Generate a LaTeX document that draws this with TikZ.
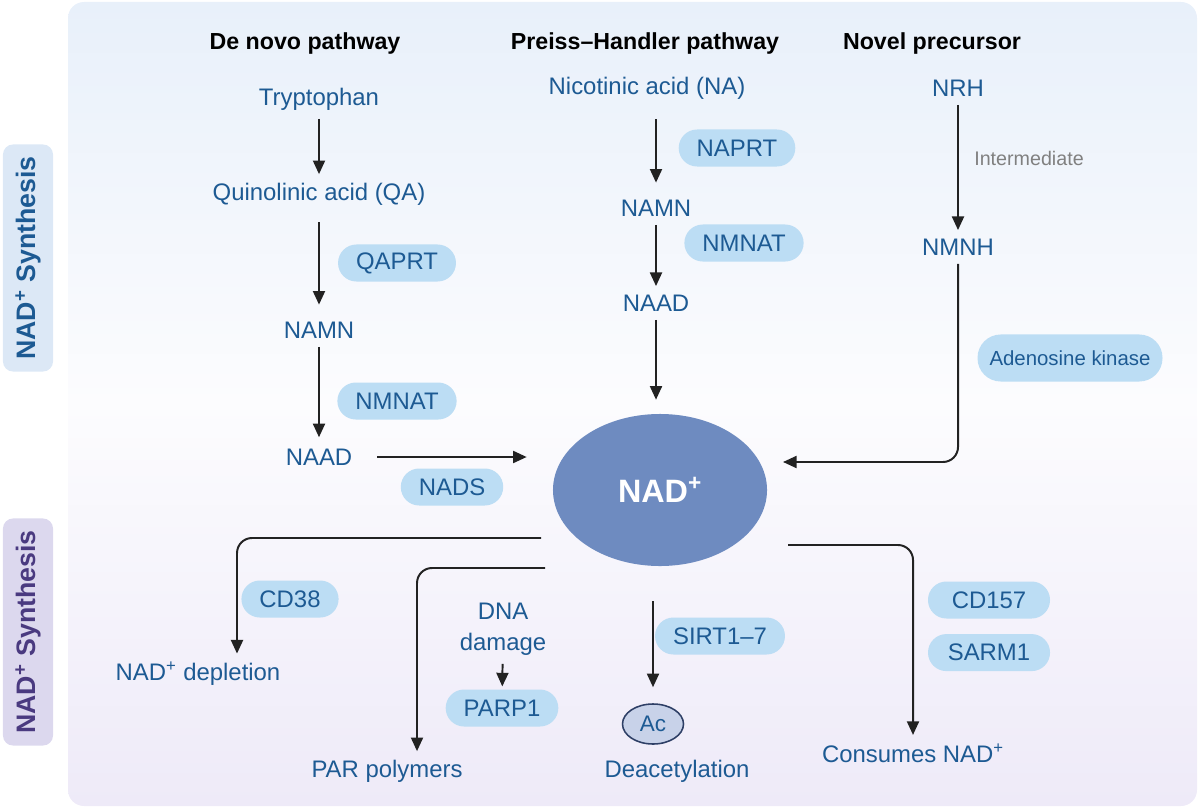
\documentclass[tikz,border=0pt]{standalone}
\usepackage{fontspec}
\setmainfont{Liberation Sans}
\usepackage{xcolor}
\usetikzlibrary{arrows.meta,positioning,shapes.geometric}

\definecolor{txtblue}{HTML}{1D5A93}
\definecolor{pillblue}{HTML}{BCDDF4}
\definecolor{nadblue}{HTML}{6E8BC0}
\definecolor{acfill}{HTML}{C8D2E9}
\definecolor{acdraw}{HTML}{2E3F66}
\definecolor{bgtop}{HTML}{E8F0FA}
\definecolor{bgmid}{HTML}{FCFCFE}
\definecolor{bgbot}{HTML}{EEEAF8}
\definecolor{synblue}{HTML}{DCE8F6}
\definecolor{synpurple}{HTML}{DCD8EE}
\definecolor{purpletxt}{HTML}{4A3A80}
\definecolor{arrowgray}{HTML}{222222}

\begin{document}
\begin{tikzpicture}[
            x=0.025cm, y=-0.025cm,
            txt/.style={text=txtblue, font=\fontsize{17}{20}\selectfont, inner sep=2pt},
            title/.style={text=black, font=\bfseries\fontsize{16.5}{20}\selectfont, inner sep=2pt},
            pill/.style={rectangle, rounded corners=0.46cm, fill=pillblue, text=txtblue, font=\fontsize{17}{20}\selectfont, minimum height=0.925cm, inner xsep=0.45cm, inner ysep=0pt},
            sidebox/.style={rectangle, rounded corners=0.25cm, rotate=90, minimum width=5.675cm, minimum height=1.25cm, font=\bfseries\fontsize{19}{20}\selectfont},
            arrow/.style={-{Triangle[length=0.34cm,width=0.3cm]}, line width=1.4pt, draw=arrowgray, shorten <=4pt, shorten >=4pt},
            elbow/.style={-{Triangle[length=0.34cm,width=0.3cm]}, line width=1.4pt, draw=arrowgray, rounded corners=0.375cm}
        ]
            \useasboundingbox (0,0) rectangle (1200,808);

            % --- PANEL ---
            \shade[top color=bgtop, bottom color=bgbot, middle color=bgmid, rounded corners=0.4cm] (68,2) rectangle (1197,806);
            \node[sidebox, fill=synblue, text=txtblue] (synA) at (28,258) {NAD\textsuperscript{+} Synthesis};
            \node[sidebox, fill=synpurple, text=purpletxt] (synB) at (28,632) {NAD\textsuperscript{+} Synthesis};

            % --- TITULOS ---
            \node[title] (tDeNovo) at (305,44) {De novo pathway};
            \node[title] (tPreiss) at (645,44) {Preiss--Handler pathway};
            \node[title] (tNovel) at (932,44) {Novel precursor};

            % --- DE NOVO ---
            \node[txt] (tryp) at (319,99) {Tryptophan};
            \node[txt] (qa) at (319,194) {Quinolinic acid (QA)};
            \node[txt] (namnA) at (319,330) {NAMN};
            \node[txt] (naadA) at (319,457) {NAAD};
            \node[pill] (qaprt) at (397,263) {QAPRT};
            \node[pill] (nmnatA) at (397,401) {NMNAT};
            \node[pill] (nads) at (452,487) {NADS};

            \draw[arrow] (tryp) -- (qa);
            \draw[arrow, shorten <=10pt, shorten >=10pt] (qa) -- (namnA);
            \draw[arrow, shorten >=6pt] (namnA) -- (naadA);

            % --- PREISS-HANDLER ---
            \node[txt] (na) at (647,88) {Nicotinic acid (NA)};
            \node[txt] (namnB) at (656,208) {NAMN};
            \node[txt] (naadB) at (656,303) {NAAD};
            \node[pill] (naprt) at (737,148) {NAPRT};
            \node[pill] (nmnatB) at (744,243) {NMNAT};

            \draw[arrow, shorten <=12pt, shorten >=10pt] (na.south -| namnB) -- (namnB);
            \draw[arrow] (namnB) -- (naadB);

            % --- NOVEL PRECURSOR ---
            \node[txt] (nrh) at (958,88) {NRH};
            \node[txt] (nmnh) at (958,247) {NMNH};
            \node[text=gray, font=\fontsize{14}{16}\selectfont] (inter) at (1029,158) {Intermediate};
            \node[pill, font=\fontsize{14.5}{16}\selectfont, inner xsep=0.3cm, minimum height=1.175cm, rounded corners=0.58cm] (adk) at (1070,358) {Adenosine kinase};

            \draw[arrow] (nrh) -- (nmnh);

            % --- NAD ---
            \node[ellipse, fill=nadblue, text=white, minimum width=5.35cm, minimum height=3.8cm, font=\bfseries\fontsize{23}{26}\selectfont] (nad) at (660,490) {NAD\textsuperscript{+}};

            \draw[arrow, shorten <=0.55cm, shorten >=0.65cm] (naadA.east) -- (naadA.east -| nad.west);
            \draw[arrow, shorten >=0.35cm] (naadB) -- (naadB |- nad.north);
            \coordinate (inR) at (783,462);
            \draw[elbow, shorten <=4pt] (nmnh.south) |- (inR);

            % --- CONSUMO ---
            \node[txt] (depl) at (198,674) {NAD\textsuperscript{+} depletion};
            \node[pill] (cd38) at (290,599) {CD38};
            \node[txt] (par) at (387,771) {PAR polymers};
            \node[txt, align=center, font=\fontsize{17}{22}\selectfont] (dna) at (503,629) {DNA\\damage};
            \node[pill] (parp) at (502,708) {PARP1};
            \node[ellipse, draw=acdraw, fill=acfill, line width=1.1pt, minimum width=1.525cm, minimum height=1cm, inner sep=0pt, text=txtblue, font=\fontsize{16}{18}\selectfont] (ac) at (653,724) {Ac};
            \node[txt, below=0.3cm of ac, xshift=0.6cm] (deac) {Deacetylation};
            \node[pill] (sirt) at (720,636) {SIRT1--7};
            \node[pill, minimum width=3.05cm] (cd157) at (989,600) {CD157};
            \node[pill, minimum width=3.05cm, below=0.375cm of cd157] (sarm) {SARM1};
            \node[txt] (cons) at (913,753) {Consumes NAD\textsuperscript{+}};

            \coordinate (outA) at (541,538);
            \coordinate (outB) at (545,568);
            \coordinate (outD) at (788,545);
            \draw[elbow, shorten >=4pt] (outA) -| ([xshift=0.975cm]depl.north);
            \draw[elbow, shorten >=4pt] (outB) -| ([xshift=0.75cm]par.north);
            \draw[arrow, shorten >=2pt] (dna) -- (parp);
            \draw[arrow, shorten <=0.875cm, shorten >=0.4cm] (nad.south -| ac.north) -- (ac.north);
            \draw[elbow, shorten >=4pt] (outD) -| (cons.north);

        \end{tikzpicture}
\end{document}
